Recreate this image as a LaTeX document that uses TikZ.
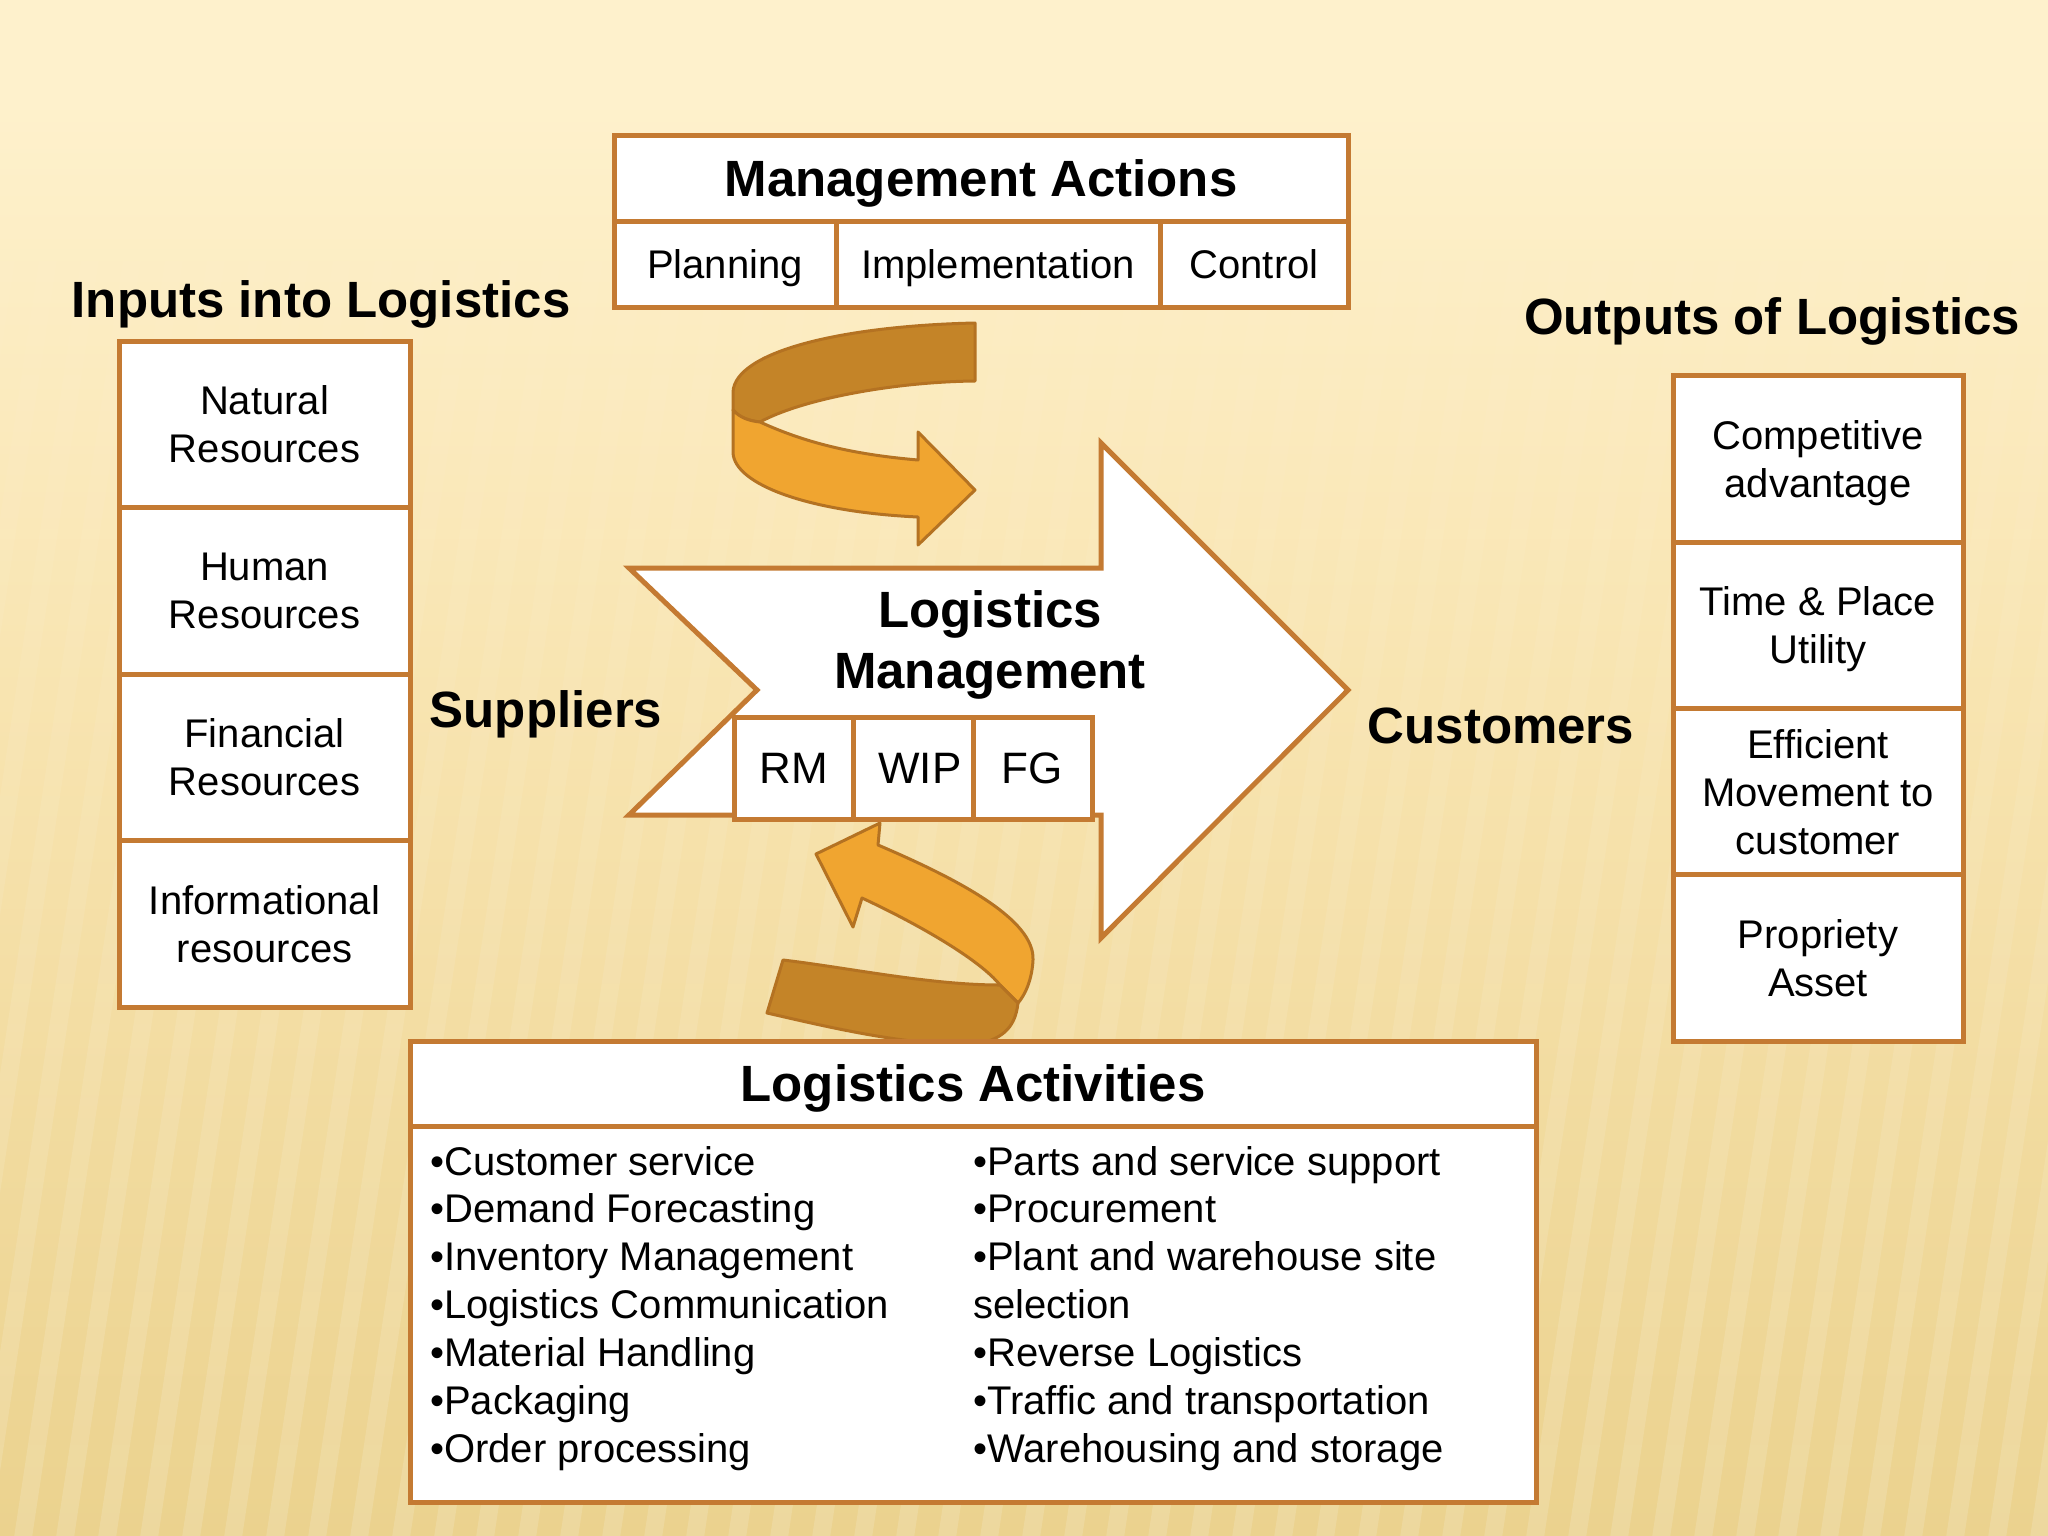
\documentclass[tikz,border=0pt]{standalone}
\usepackage{fontspec}
\setmainfont{Liberation Sans}
\usetikzlibrary{fadings}
\definecolor{bord}{RGB}{196,122,50}
\definecolor{arrlight}{RGB}{240,165,48}
\definecolor{arrdark}{RGB}{196,132,40}
\definecolor{arredge}{RGB}{180,114,34}
\definecolor{bgtop}{RGB}{254,241,204}
\definecolor{bgmid}{RGB}{248,228,176}
\definecolor{bgbot}{RGB}{235,210,142}
\tikzfading[name=stripefade, top color=transparent!100, bottom color=transparent!0]
\begin{document}
\begin{tikzpicture}[x=1pt,y=-1pt,
  cell/.style={draw=bord, line width=5pt, fill=white, inner sep=0pt, align=center,
    text depth=0pt, font=\fontsize{40}{48}\selectfont},
  bigcell/.style={cell, font=\fontsize{44}{52}\selectfont},
  headcell/.style={cell, font=\fontsize{51}{61}\selectfont\bfseries},
  head/.style={inner sep=0pt, align=center, text depth=0pt, font=\fontsize{51}{61}\selectfont\bfseries},
  item/.style={inner sep=0pt, anchor=base west, font=\fontsize{40}{48}\selectfont},
  curvelight/.style={fill=arrlight, draw=arredge, line width=3pt, line join=round},
  curvedark/.style={fill=arrdark, draw=arredge, line width=3pt, line join=round}]
\useasboundingbox (0,0) rectangle (2048,1536);
% background
\fill[bgtop] (0,0) rectangle (2048,100);
\shade[top color=bgtop, bottom color=bgmid] (0,99) rectangle (2048,700);
\shade[top color=bgmid, bottom color=bgbot] (0,699) rectangle (2048,1536);
\foreach \x in {-20,22,...,2300}{
  \fill[white, opacity=0.15, path fading=stripefade] (\x,90) -- (\x+18,90) -- (\x-200,1536) -- (\x-218,1536) -- cycle;
}
% top curved arrow
\path[curvedark] (975,323) .. controls (840,326) and (735,352) .. (733,392) -- (733,410)
  .. controls (740,418) and (750,421) .. (760,422)
  .. controls (800,400) and (890,382) .. (975,381) -- cycle;
\path[curvelight] (733,410) .. controls (740,418) and (750,421) .. (760,422)
  .. controls (810,445) and (860,455) .. (918,460) -- (918,432) -- (975,490) -- (918,545) -- (918,517)
  .. controls (810,512) and (735,485) .. (733,453) -- cycle;
% bottom curved arrow
\path[curvelight] (878,845) -- (880,823) -- (816,854) -- (853,927) -- (862,898)
  .. controls (920,925) and (980,960) .. (1000,985) -- (1018,1003)
  .. controls (1025,995) and (1032,980) .. (1033,960)
  .. controls (1035,920) and (960,880) .. (878,845) -- cycle;
\path[curvedark] (783,960) .. controls (850,968) and (930,985) .. (1000,985) -- (1018,1003)
  .. controls (1015,1030) and (1000,1040) .. (973,1045)
  .. controls (900,1045) and (820,1025) .. (767,1013) -- cycle;
% big arrow
\path[fill=white, draw=bord, line width=5pt, line join=miter]
  (629,568) -- (1101,568) -- (1101,443) -- (1348,690) -- (1101,938) -- (1101,815)
  -- (629,815) -- (757,690) -- cycle;
\node[head] (lm) at (990,640) {Logistics\\Management};
\node[bigcell, minimum width=119pt, minimum height=102pt] (rm) at (793.5,768) {RM};
\node[bigcell, minimum width=120pt, minimum height=102pt] (wip) at (913,768) {\hspace*{14pt}WIP};
\node[bigcell, minimum width=119pt, minimum height=102pt] (fg) at (1032.5,768) {FG};
% management actions
\node[headcell, minimum width=734pt, minimum height=85pt] (ma) at (981,178.5) {Management Actions};
\node[cell, minimum width=222pt, minimum height=86pt] (plan) at (725,264) {Planning};
\node[cell, minimum width=324pt, minimum height=86pt] (impl) at (998,264) {Implementation};
\node[cell, minimum width=188pt, minimum height=86pt] (ctrl) at (1254,264) {Control};
% inputs
\node[head] (inputs) at (321,299) {Inputs into Logistics};
\node[cell, minimum width=291pt, minimum height=166.5pt] (nat) at (264.5,424.25) {Natural\\Resources};
\node[cell, minimum width=291pt, minimum height=166.5pt] (hum) at (264.5,590.75) {Human\\Resources};
\node[cell, minimum width=291pt, minimum height=166.5pt] (fin) at (264.5,757.25) {Financial\\Resources};
\node[cell, minimum width=291pt, minimum height=166.5pt] (inf) at (264.5,923.75) {Informational\\resources};
% outputs
\node[head] (outputs) at (1772,316) {Outputs of Logistics};
\node[cell, minimum width=290pt, minimum height=166.25pt] (comp) at (1818,459.1) {Competitive\\advantage};
\node[cell, minimum width=290pt, minimum height=166.25pt] (time) at (1818,625.4) {Time \& Place\\Utility};
\node[cell, minimum width=290pt, minimum height=166.25pt] (eff) at (1818,791.6) {Efficient\\Movement to\\customer};
\node[cell, minimum width=290pt, minimum height=166.25pt] (prop) at (1818,957.9) {Propriety\\Asset};
% suppliers / customers
\node[head] (sup) at (546,709) {Suppliers};
\node[head] (cus) at (1501,726) {Customers};
% activities
\node[headcell, minimum width=1126pt, minimum height=85pt] (la) at (973,1083.5) {Logistics Activities};
\node[cell, minimum width=1126pt, minimum height=376pt] (labody) at (973,1314) {};
\foreach \t [count=\i] in {Customer service,Demand Forecasting,Inventory Management,Logistics Communication,Material Handling,Packaging,Order processing}{
  \node[item] (l\i) at (430,1175+47.9*\i-47.9) {•\t};
}
\foreach \t [count=\i] in {•Parts and service support,•Procurement,•Plant and warehouse site,selection,•Reverse Logistics,•Traffic and transportation,•Warehousing and storage}{
  \node[item] (r\i) at (973,1175+47.9*\i-47.9) {\t};
}
\end{tikzpicture}
\end{document}
